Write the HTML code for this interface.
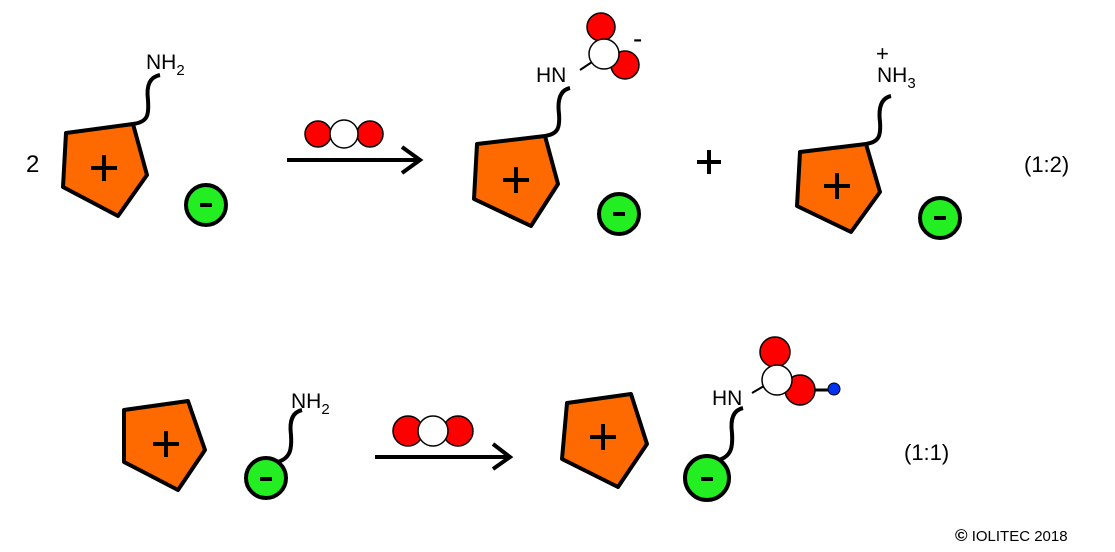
<!DOCTYPE html>
<html><head><meta charset="utf-8"><style>
html,body{margin:0;padding:0;background:#fff;}
svg{display:block;}
text{font-family:"Liberation Sans",sans-serif;fill:#000;}
</style></head><body>
<svg width="1115" height="552" viewBox="0 0 1115 552" xmlns="http://www.w3.org/2000/svg">
<defs>
<g id="minus"><rect x="-6" y="-2" width="12" height="4" fill="#000"/></g>
</defs>
<g stroke="#000" stroke-width="4" stroke-linejoin="round">
<polygon points="66,133 133,124 147,175 118,216 63,187" fill="#ff6a00"/>
<path d="M133,124 C148,122 149,115 148,100 C146,85 150,77 160,75" fill="none"/>
<circle cx="206" cy="205" r="20" fill="#22ee22"/>
<polygon points="477,144 545,136 558,184 531,226 474,199" fill="#ff6a00"/>
<path d="M545,136 C558,134 560,128 559,114 C557,98 561,90 570,88" fill="none"/>
<circle cx="619" cy="214" r="20" fill="#22ee22"/>
<polygon points="800,152 866,144 880,192 851,232 797,206" fill="#ff6a00"/>
<path d="M866,144 C879,142 881,136 880,122 C878,106 882,98 891,96" fill="none"/>
<circle cx="940" cy="218" r="20" fill="#22ee22"/>
<polygon points="124,410 188,401 205,450 178,490 124,462" fill="#ff6a00"/>
<circle cx="266" cy="478" r="20" fill="#22ee22"/>
<path d="M278,462 C290,458 292,450 291,435 C289,420 293,412 302,410" fill="none"/>
<polygon points="567,403 631,394 647,444 618,487 562,459" fill="#ff6a00"/>
<circle cx="707" cy="478" r="22" fill="#22ee22"/>
<path d="M719,460 C731,456 733,448 732,433 C730,418 734,410 743,408" fill="none"/>
</g>
<g stroke="#000" stroke-width="4" fill="none">
<line x1="287" y1="160" x2="420" y2="160"/>
<polyline points="402,147 420,160 402,173"/>
<line x1="375" y1="457" x2="510" y2="457"/>
<polyline points="493,444 510,457 493,469"/>
</g>
<g stroke="#000" stroke-width="1.5">
<circle cx="318" cy="134" r="13" fill="#ff0000"/>
<circle cx="370" cy="134" r="13" fill="#ff0000"/>
<circle cx="344" cy="134" r="14" fill="#fff"/>
<circle cx="408" cy="431" r="15" fill="#ff0000"/>
<circle cx="458" cy="431" r="15" fill="#ff0000"/>
<circle cx="433" cy="431" r="15" fill="#fff"/>
<line x1="580" y1="70" x2="592" y2="62" stroke-width="2"/>
<circle cx="601" cy="27" r="14" fill="#ff0000"/>
<circle cx="625" cy="65" r="14" fill="#ff0000"/>
<circle cx="604" cy="54" r="15" fill="#fff"/>
<line x1="752" y1="393" x2="764" y2="386" stroke-width="2"/>
<line x1="812" y1="390" x2="834" y2="390" stroke-width="3"/>
<circle cx="775" cy="352" r="15" fill="#ff0000"/>
<circle cx="800" cy="390" r="15" fill="#ff0000"/>
<circle cx="777" cy="380" r="15" fill="#fff"/>
<circle cx="834" cy="389" r="6" fill="#0033ee" stroke-width="1"/>
</g>
<g stroke="#000" stroke-width="4">
<line x1="91" y1="168" x2="117" y2="168"/><line x1="104" y1="155" x2="104" y2="181"/>
<line x1="503" y1="180" x2="529" y2="180"/><line x1="516" y1="167" x2="516" y2="193"/>
<line x1="824" y1="186" x2="850" y2="186"/><line x1="837" y1="173" x2="837" y2="199"/>
<line x1="153" y1="444" x2="179" y2="444"/><line x1="166" y1="431" x2="166" y2="457"/>
<line x1="590" y1="437" x2="616" y2="437"/><line x1="603" y1="424" x2="603" y2="450"/>
<line x1="697" y1="162" x2="721" y2="162"/><line x1="709" y1="150" x2="709" y2="174"/>
</g>
<use href="#minus" x="206" y="205"/>
<use href="#minus" x="619" y="214"/>
<use href="#minus" x="940" y="218"/>
<use href="#minus" x="266" y="479"/>
<use href="#minus" x="707" y="479"/>
<text x="26" y="172" font-size="24" fill="#000">2</text>
<text x="146" y="69" font-size="21" fill="#000">NH<tspan font-size="15" dy="6">2</tspan></text>
<text x="536" y="82" font-size="21" fill="#000">HN</text>
<text x="633" y="48" font-size="28" fill="#000">-</text>
<text x="877" y="82" font-size="21" fill="#000">NH<tspan font-size="15" dy="6">3</tspan></text>
<text x="876" y="61" font-size="22" fill="#000">+</text>
<text x="1024" y="172" font-size="22" fill="#000">(1:2)</text>
<text x="291" y="408" font-size="21" fill="#000">NH<tspan font-size="15" dy="6">2</tspan></text>
<text x="712" y="405" font-size="21" fill="#000">HN</text>
<text x="904" y="460" font-size="22" fill="#000">(1:1)</text>
<text x="955" y="541" font-size="15" fill="#000"><tspan font-size="17" font-weight="bold">©</tspan> IOLITEC 2018</text>
</svg>
</body></html>
